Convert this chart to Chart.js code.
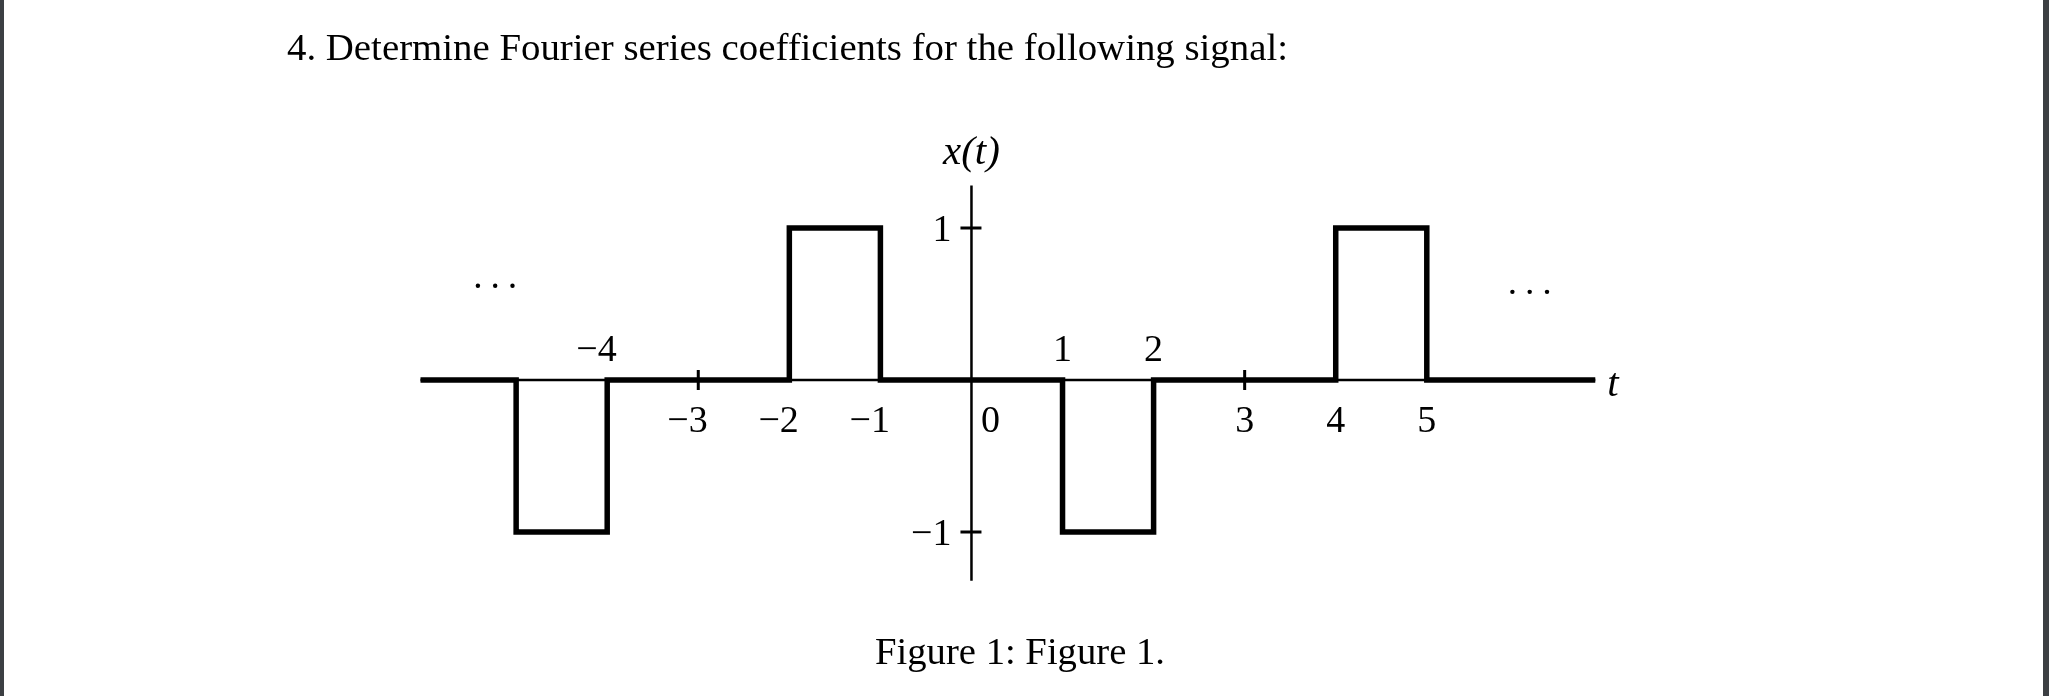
<!DOCTYPE html>
<html>
<head>
<meta charset="utf-8">
<script src="https://cdn.jsdelivr.net/npm/chart.js@4.4.1/dist/chart.umd.min.js"></script>
<style>
  html, body { margin: 0; padding: 0; background: #fff; }
  body { width: 2049px; height: 696px; position: relative; overflow: hidden; }
  .edge { position: absolute; top: 0; bottom: 0; background: #3c3f43; }
  #chartBox { position: absolute; left: 0; top: 0; width: 2049px; height: 696px; }
  .txt {
    position: absolute; font-family: "Liberation Serif", "Times New Roman", serif;
    color: #000; white-space: nowrap; line-height: 37px; font-size: 37px;
    transform-origin: left top;
  }
</style>
</head>
<body>
<div class="edge" style="left:0;width:4px"></div>
<div class="edge" style="right:0;width:6px"></div>
<div id="chartBox"><canvas id="signal" width="2049" height="696"></canvas></div>
<div class="txt" id="title" style="left:287px;top:29px">4. Determine Fourier series coefficients for the following signal:</div>
<div class="txt" id="caption" style="left:875px;top:633px">Figure 1: Figure 1.</div>

<script>
// signal x(t): level holds from each edge time to the next one
const edgeTimes = [-6.05, -5, -4, -2, -1, 1, 2, 4, 5, 6.85];
const signalLevels = [0, -1, 0, 1, 0, -1, 0, 1, 0, 0];

// tick labels on the t axis
const belowTickValues = [-3, -2, -1, 0, 3, 4, 5];
const aboveTickValues = [-4, 1, 2];
const markedTicks = [-3, 3];
// tick labels on the x(t) axis
const yTickValues = [1, -1];

const axisStart = -6.05;
const axisEnd = 6.85;
const yAxisTop = 1.28;
const yAxisBottom = -1.32;

function fitWidth(id, target) {
  const el = document.getElementById(id);
  const w = el.getBoundingClientRect().width;
  el.style.transform = 'scaleX(' + (target / w) + ')';
}
fitWidth('title', 1001);
fitWidth('caption', 290);

function fmt(v) {
  return v < 0 ? '\u2212' + Math.abs(v) : String(v);
}

const serif = '"Liberation Serif", "Times New Roman", serif';

const axesPlugin = {
  id: 'signalAxes',
  beforeDatasetsDraw(chart) {
    const ctx = chart.ctx;
    const xs = chart.scales.x, ys = chart.scales.y;
    const y0 = ys.getPixelForValue(0);
    const x0 = xs.getPixelForValue(0);
    ctx.save();
    ctx.strokeStyle = '#000';
    ctx.lineWidth = 2.5;
    ctx.beginPath();
    // t axis
    ctx.moveTo(xs.getPixelForValue(axisStart), y0);
    ctx.lineTo(xs.getPixelForValue(axisEnd), y0);
    // x(t) axis
    ctx.moveTo(x0, ys.getPixelForValue(yAxisTop));
    ctx.lineTo(x0, ys.getPixelForValue(yAxisBottom));
    ctx.stroke();

    ctx.lineWidth = 3;
    ctx.beginPath();
    markedTicks.forEach(t => {
      const px = xs.getPixelForValue(t);
      ctx.moveTo(px, y0 - 10);
      ctx.lineTo(px, y0 + 10);
    });
    yTickValues.forEach(v => {
      const py = ys.getPixelForValue(v);
      ctx.moveTo(x0 - 11, py);
      ctx.lineTo(x0 + 10, py);
    });
    ctx.stroke();
    ctx.restore();
  },
  afterDatasetsDraw(chart) {
    const ctx = chart.ctx;
    const xs = chart.scales.x, ys = chart.scales.y;
    const y0 = ys.getPixelForValue(0);
    const x0 = xs.getPixelForValue(0);
    ctx.save();
    ctx.fillStyle = '#000';
    ctx.font = '38px ' + serif;
    ctx.textBaseline = 'alphabetic';
    ctx.textAlign = 'right';

    const drawTick = (v, py) => {
      const digitW = ctx.measureText(String(Math.abs(v))).width;
      let px = xs.getPixelForValue(v) + digitW / 2;
      if (v === 0) px += 19;
      ctx.fillText(fmt(v), px, py);
    };
    aboveTickValues.forEach(v => drawTick(v, y0 - 19));
    belowTickValues.forEach(v => drawTick(v, y0 + 52));

    yTickValues.forEach(v => {
      ctx.fillText(fmt(v), x0 - 20, ys.getPixelForValue(v) + 13);
    });

    // axis names
    ctx.font = 'italic 41px ' + serif;
    ctx.textAlign = 'center';
    ctx.fillText('x(t)', x0, ys.getPixelForValue(yAxisTop) - 21);
    ctx.textAlign = 'left';
    ctx.fillText('t', xs.getPixelForValue(axisEnd) + 12, y0 + 16);

    // continuation dots
    const dots = [[-5.42, 0.62], [-5.23, 0.62], [-5.04, 0.62], [5.94, 0.58], [6.13, 0.58], [6.32, 0.58]];
    dots.forEach(([t, v]) => {
      ctx.beginPath();
      ctx.arc(xs.getPixelForValue(t), ys.getPixelForValue(v), 2.2, 0, Math.PI * 2);
      ctx.fill();
    });
    ctx.restore();
  }
};

const ctx = document.getElementById('signal').getContext('2d');
new Chart(ctx, {
  type: 'line',
  data: {
    datasets: [{
      data: edgeTimes.map((t, i) => ({ x: t, y: signalLevels[i] })),
      stepped: true,
      borderColor: '#000',
      borderWidth: 5.5,
      borderJoinStyle: 'miter',
      borderCapStyle: 'butt',
      pointRadius: 0,
      fill: false
    }]
  },
  options: {
    responsive: false,
    animation: false,
    layout: { padding: { left: 334, right: 349, top: 76, bottom: 12 } },
    scales: {
      x: { type: 'linear', min: -7, max: 8, display: false },
      y: { min: -2, max: 2, display: false }
    },
    plugins: { legend: { display: false }, tooltip: { enabled: false } }
  },
  plugins: [axesPlugin]
});
</script>
</body>
</html>
